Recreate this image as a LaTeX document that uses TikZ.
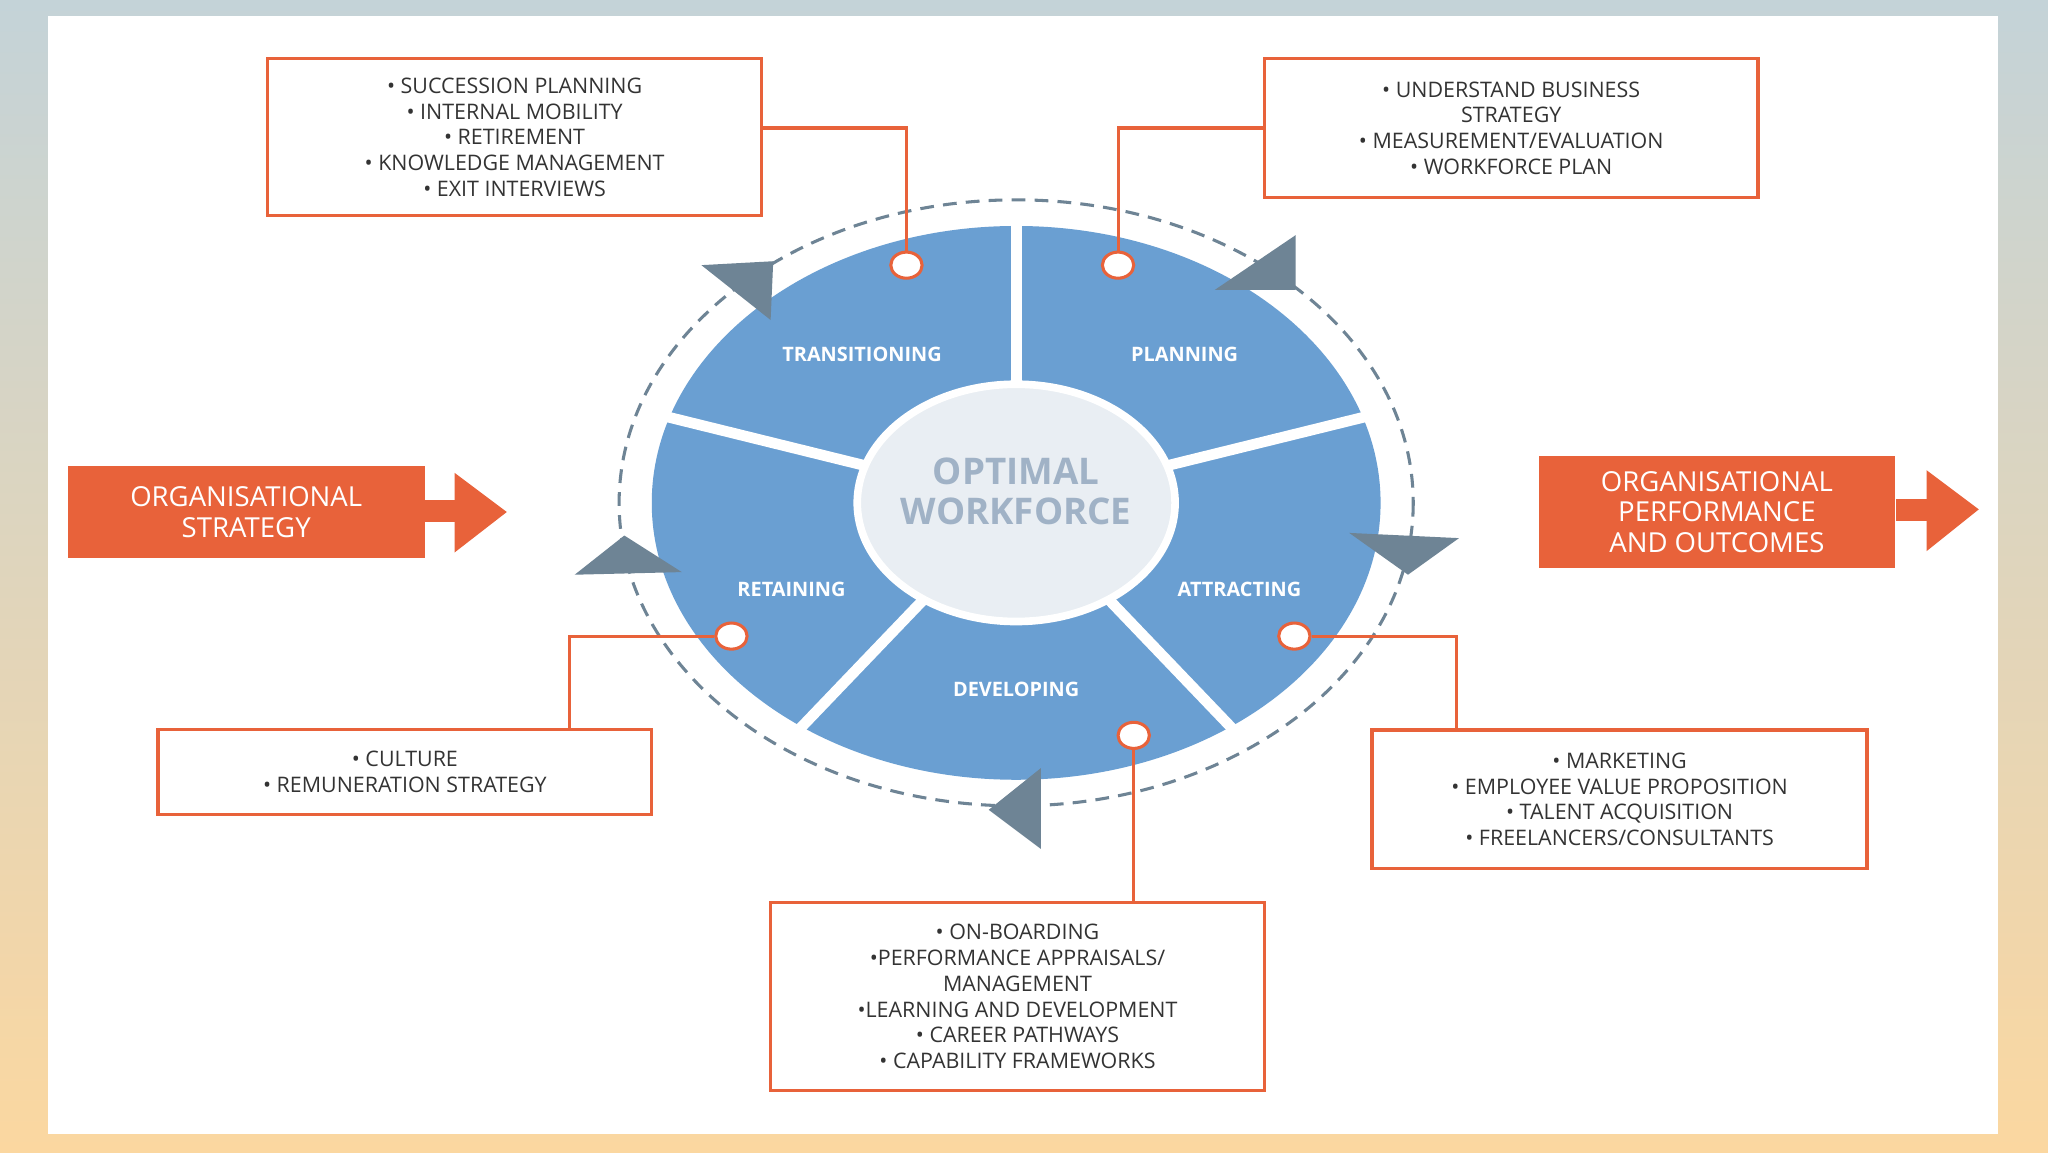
\documentclass[tikz,border=0pt]{standalone}
\usepackage{fontspec}
\usetikzlibrary{shapes.geometric}
\setmainfont{Open Sans}
\begin{document}
\begin{tikzpicture}[x=0.03cm,y=-0.03cm,
  box/.style={draw=orgc,line width=2.2pt,fill=white,align=center,font=\fontsize{14}{16.8}\selectfont,text=black!80,inner sep=0pt},
  dot/.style={ellipse,draw=orgc,line width=2pt,fill=white,minimum width=0.72cm,minimum height=0.6cm,inner sep=0pt},
  lab/.style={text=white,font=\bfseries\fontsize{13}{15}\selectfont},
  conn/.style={draw=orgc,line width=2pt},
  tri/.style={fill=arrc},
  obox/.style={fill=orgc,text=white,align=center,font=\fontsize{18}{20}\selectfont}]
\definecolor{orgc}{HTML}{E8623A}
\definecolor{bluec}{HTML}{6A9FD2}
\definecolor{arrc}{HTML}{6E8495}
\definecolor{innc}{HTML}{E9EEF3}
\useasboundingbox (0,0) rectangle (1568,882);
\shade[top color={rgb,255:red,196;green,211;blue,216}, bottom color={rgb,255:red,251;green,215;blue,160}] (0,0) rectangle (1568,882);
\fill[white] (37,12) rectangle (1530,868);
% dashed ring
\draw[dashed,line width=2pt,draw=arrc,dash pattern=on 9pt off 6pt] (778,385) ellipse [x radius=304,y radius=232];
% wheel
\coordinate (c) at (778,385);
\fill[bluec] (c) ellipse [x radius=279,y radius=212];
\foreach \a in {-90,-18,54,126,-162}
  \draw[white,line width=7pt] (c) -- ++(\a:290 and 220);
\node[ellipse,fill=innc,draw=white,line width=5pt,minimum width=7.3cm,minimum height=5.45cm] (inner) at (c) {};
\node[align=center,text={rgb,255:red,160;green,178;blue,198},font=\bfseries\fontsize{24}{26}\selectfont] (ow) at (778,376) {OPTIMAL\\WORKFORCE};
\node[lab] (l1) at (660,271) {TRANSITIONING};
\node[lab] (l2) at (907,271) {PLANNING};
\node[lab] (l3) at (606,451) {RETAINING};
\node[lab] (l4) at (949,451) {ATTRACTING};
\node[lab] (l5) at (778,528) {DEVELOPING};
% arrowheads
\fill[tri] (537,203) -- (592,200) -- (590,245) -- cycle;
\fill[tri] (992,180) -- (992,222) -- (930,222) -- cycle;
\fill[tri] (1033,408) -- (1117,412) -- (1078,440) -- cycle;
\fill[tri] (797,588) -- (797,650) -- (757,620) -- cycle;
\fill[tri] (440,440) -- (478,410) -- (522,438) -- cycle;
% boxes
\node[box,minimum width=11.34cm,minimum height=3.6cm] (b1) at (394,105) {• SUCCESSION PLANNING\\• INTERNAL MOBILITY\\• RETIREMENT\\• KNOWLEDGE MANAGEMENT\\• EXIT INTERVIEWS};
\node[box,minimum width=11.34cm,minimum height=3.2cm] (b2) at (1157,98) {• UNDERSTAND BUSINESS\\STRATEGY\\• MEASUREMENT/EVALUATION\\• WORKFORCE PLAN};
\node[box,minimum width=11.34cm,minimum height=1.95cm] (b3) at (310,591) {• CULTURE\\• REMUNERATION STRATEGY};
\node[box,minimum width=11.37cm,minimum height=3.18cm] (b4) at (1240,612) {• MARKETING\\• EMPLOYEE VALUE PROPOSITION\\• TALENT ACQUISITION\\• FREELANCERS/CONSULTANTS};
\node[box,minimum width=11.34cm,minimum height=4.32cm] (b5) at (779,763) {• ON-BOARDING\\•PERFORMANCE APPRAISALS/\\MANAGEMENT\\•LEARNING AND DEVELOPMENT\\• CAREER PATHWAYS\\• CAPABILITY FRAMEWORKS};
% dots
\node[dot] (d1) at (694,203) {};
\node[dot] (d2) at (856,203) {};
\node[dot] (d3) at (560,487) {};
\node[dot] (d4) at (991,487) {};
\node[dot] (d5) at (868,563) {};
% connectors
\coordinate (k1) at (694,98);
\coordinate (k2) at (856,98);
\coordinate (k3) at (436,487);
\coordinate (k4) at (1115,487);
\draw[conn] (b1.east |- k1) -- (k1) -- (d1.north);
\draw[conn] (b2.west |- k2) -- (k2) -- (d2.north);
\draw[conn] (b3.north -| k3) -- (k3) -- (d3.west);
\draw[conn] (b4.north -| k4) -- (k4) -- (d4.east);
\draw[conn] (b5.north -| d5) -- (d5.south);
% orange arrows
\node[obox,minimum width=8.19cm,minimum height=2.1cm] (os) at (188.5,392) {ORGANISATIONAL\\STRATEGY};
\fill[orgc] (os.east |- 0,383) rectangle (348,400);
\fill[orgc] (348,362) -- (388,392) -- (348,423) -- cycle;
\node[obox,minimum width=8.19cm,minimum height=2.58cm] (op) at (1314.5,392) {ORGANISATIONAL\\PERFORMANCE\\AND OUTCOMES};
\fill[orgc] (op.east |- 0,382) rectangle (1475,399);
\fill[orgc] (1475,360) -- (1515,390) -- (1475,422) -- cycle;
\end{tikzpicture}
\end{document}
